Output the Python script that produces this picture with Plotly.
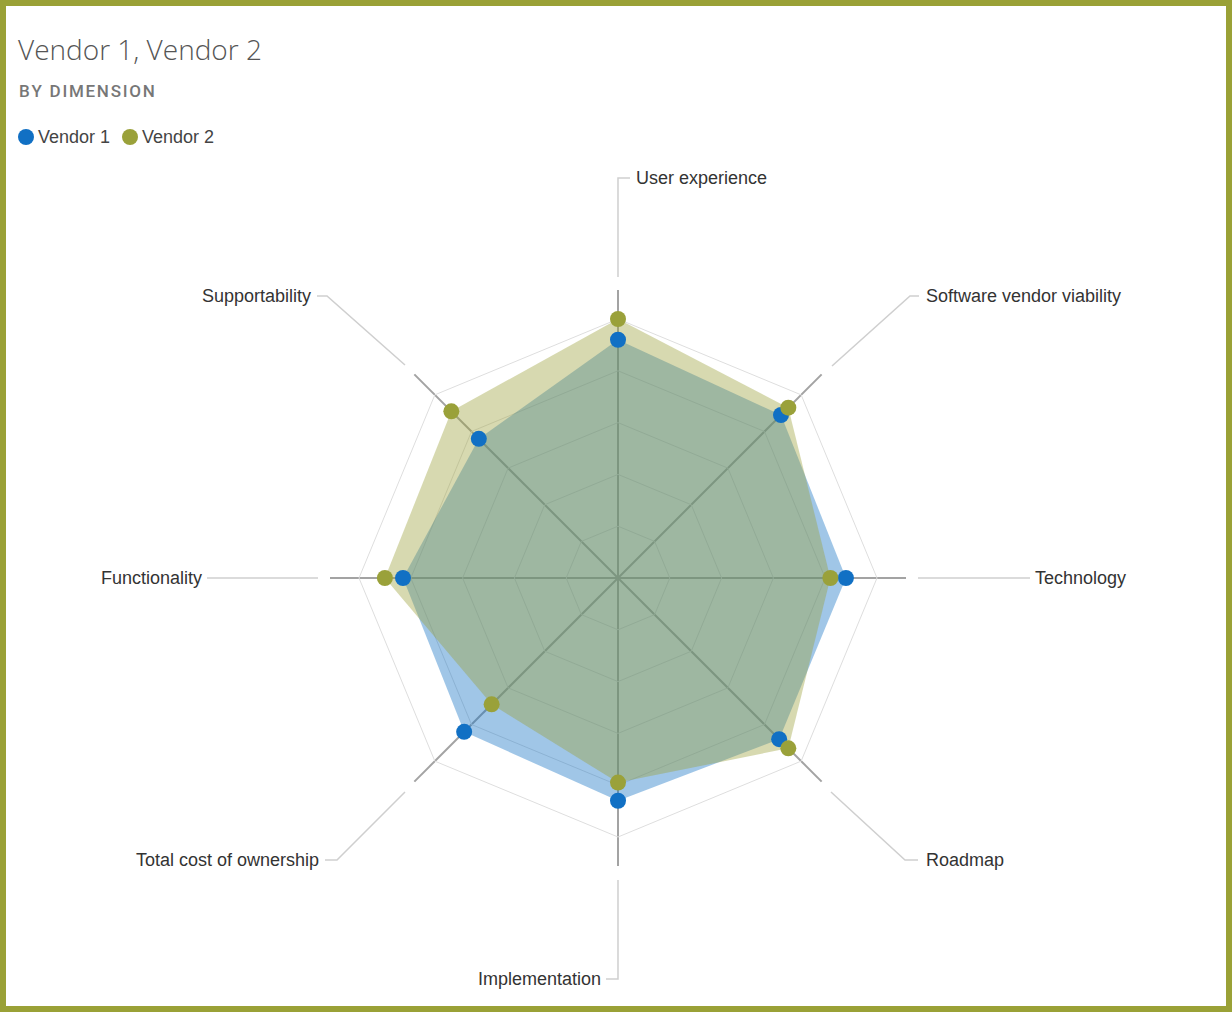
"""Vendor comparison radar chart (8 dimensions)."""

import plotly.graph_objects as go

# data

DIMENSIONS = [
    "User experience",
    "Software vendor viability",
    "Technology",
    "Roadmap",
    "Implementation",
    "Total cost of ownership",
    "Functionality",
    "Supportability",
]
VENDOR_1 = [4.6, 4.45, 4.4, 4.4, 4.3, 4.2, 4.15, 3.8]
VENDOR_2 = [5.0, 4.65, 4.1, 4.65, 3.95, 3.45, 4.5, 4.55]
RADIAL_TICKS = [1, 2, 3, 4, 5]

# style

W, H = 1232, 1012
BLUE = "#1170c4"
OLIVE = "#9aa13a"
BORDER = "#9aa136"
LABEL_FONT = dict(family="Liberation Sans, Arial", size=18, color="#333333")
LEADER = dict(color="#cfcfcf", width=1.5)

CX, CY, R_OUT = 618, 578, 288   # polar centre and outer radius in pixels
R_MAX = 5 * R_OUT / 259         # outer grid ring (5) sits at 259 px


def fx(x):
    return x / W


def fy(y):
    return 1 - y / H


# leader line polylines (pixels) and label anchor for each dimension
LABEL_LAYOUT = [
    dict(path=[(618, 277), (618, 178), (630, 178)], at=(634, 178), anchor="left"),
    dict(path=[(832, 366), (910, 296), (919, 296)], at=(924, 296), anchor="left"),
    dict(path=[(918, 578), (1030, 578)], at=(1033, 578), anchor="left"),
    dict(path=[(831, 792), (905, 860), (918, 860)], at=(924, 860), anchor="left"),
    dict(path=[(618, 880), (618, 979), (606, 979)], at=(603, 979), anchor="right"),
    dict(path=[(405, 792), (337, 860), (325, 860)], at=(321, 860), anchor="right"),
    dict(path=[(318, 578), (207, 578)], at=(204, 578), anchor="right"),
    dict(path=[(405, 365), (327, 296), (317, 296)], at=(313, 296), anchor="right"),
]


def with_alpha(hex_color, a):
    h = hex_color.lstrip("#")
    r, g, b = (int(h[i:i + 2], 16) for i in (0, 2, 4))
    return f"rgba({r},{g},{b},{a})"


SERIES = [("Vendor 1", VENDOR_1, BLUE), ("Vendor 2", VENDOR_2, OLIVE)]

fig = go.Figure()

# fills first, markers on top of both areas
for name, values, color in SERIES:
    fig.add_trace(go.Scatterpolar(
        r=values, theta=DIMENSIONS, name=name,
        mode="none", fill="toself",
        fillcolor=with_alpha(color, 0.4),
        showlegend=False, hoverinfo="skip",
    ))

for name, values, color in SERIES:
    fig.add_trace(go.Scatterpolar(
        r=values, theta=DIMENSIONS, name=name,
        mode="markers",
        marker=dict(size=16, color=color),
        showlegend=False,
        hovertemplate=f"<b>{name}</b><br>%{{theta}}: %{{r}}<extra></extra>",
    ))

shapes = []
annotations = []

for dim, lay in zip(DIMENSIONS, LABEL_LAYOUT):
    path = "M " + " L ".join(f"{fx(x):.5f},{fy(y):.5f}" for x, y in lay["path"])
    shapes.append(dict(type="path", xref="paper", yref="paper", path=path, line=LEADER))
    annotations.append(dict(
        text=dim, xref="paper", yref="paper",
        x=fx(lay["at"][0]), y=fy(lay["at"][1]),
        xanchor=lay["anchor"], yanchor="middle", showarrow=False, font=LABEL_FONT,
    ))

# title block (hair spaces give the subtitle its tracking)
subtitle = "\u200a".join("BY DIMENSION")
annotations += [
    dict(text="Vendor 1, Vendor 2", xref="paper", yref="paper", x=fx(16), y=fy(49),
         xanchor="left", yanchor="middle", showarrow=False,
         font=dict(family="Open Sans", size=28, color="#555555", weight=300)),
    dict(text=subtitle, xref="paper", yref="paper", x=fx(17), y=fy(91),
         xanchor="left", yanchor="middle", showarrow=False,
         font=dict(family="Roboto", size=17, color="#777777", weight=500)),
]

# legend built from shapes + text so circle sits tight to the label
for (cx, tx, name, color) in [(26, 36, "Vendor 1", BLUE), (130, 140, "Vendor 2", OLIVE)]:
    shapes.append(dict(type="circle", xref="paper", yref="paper",
                       x0=fx(cx - 8), x1=fx(cx + 8), y0=fy(137 + 8), y1=fy(137 - 8),
                       fillcolor=color, line=dict(width=0)))
    annotations.append(dict(text=name, xref="paper", yref="paper", x=fx(tx), y=fy(137),
                            xanchor="left", yanchor="middle", showarrow=False,
                            font=dict(family="Liberation Sans, Arial", size=18, color="#444444")))

# frame
shapes.append(dict(type="rect", xref="paper", yref="paper", x0=0, x1=1, y0=0, y1=1,
                   line=dict(color=BORDER, width=12), layer="above"))

fig.update_layout(
    width=W, height=H,
    margin=dict(l=0, r=0, t=0, b=0),
    paper_bgcolor="white",
    showlegend=False,
    polar=dict(
        domain=dict(x=[fx(CX - R_OUT), fx(CX + R_OUT)], y=[fy(CY + R_OUT), fy(CY - R_OUT)]),
        bgcolor="rgba(0,0,0,0)",
        gridshape="linear",
        radialaxis=dict(range=[0, R_MAX], tickvals=RADIAL_TICKS, showticklabels=False,
                        ticks="", showline=False, gridcolor="#dedede", gridwidth=1.2),
        angularaxis=dict(direction="clockwise", rotation=90, showticklabels=False,
                         ticks="", showline=False, gridcolor="#a3a3a3", gridwidth=1.6),
    ),
    shapes=shapes,
    annotations=annotations,
)

fig.write_html("out.html", config={"displayModeBar": False},
               post_script="document.body.style.margin='0';")
